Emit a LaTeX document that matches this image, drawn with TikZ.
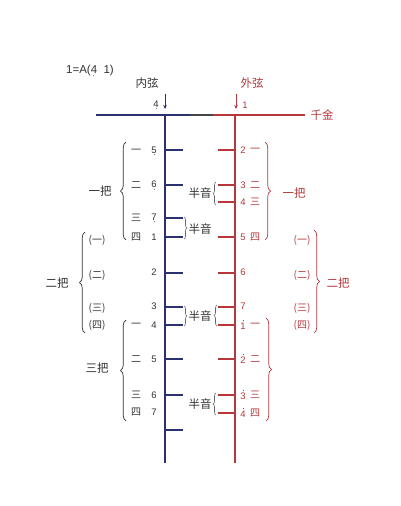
\documentclass[tikz,border=0pt]{standalone}
\usepackage{fontspec}
\setmainfont{Liberation Sans}
\newfontfamily\cjk{Noto Sans CJK SC}
\usetikzlibrary{decorations.pathreplacing,arrows.meta}
\definecolor{navy}{HTML}{2B3070}
\definecolor{redc}{HTML}{B5383C}
\definecolor{txt}{HTML}{333333}
\definecolor{mid}{HTML}{454545}
\newcommand\lo[1]{\leavevmode\setbox0\hbox{#1}\copy0\kern-\wd0\hbox to\wd0{\hss\raisebox{-2.4pt}{\color{gray}\rule{1pt}{1pt}}\hss}}
\newcommand\hi[1]{\leavevmode\setbox0\hbox{#1}\copy0\kern-\wd0\hbox to\wd0{\hss\raisebox{8.2pt}{\rule{1pt}{1pt}}\hss}}
\tikzset{
  bl/.style={draw=navy, line width=1.3pt},
  rd/.style={draw=redc, line width=1.3pt},
  dk/.style={draw=mid, line width=1.3pt},
  num/.style={inner sep=0pt, font=\fontsize{9.5}{10}\selectfont},
  cn/.style={inner sep=0pt, font=\fontsize{10}{11}\selectfont\cjk},
  big/.style={inner sep=0pt, font=\fontsize{11.5}{12}\selectfont\cjk},
  bigbrace/.style={decorate, decoration={brace, amplitude=5.5pt}, line width=0.7pt},
  smallbrace/.style={decorate, decoration={brace, amplitude=3pt}, line width=0.6pt, draw=gray!80!black}
}
\begin{document}
\begin{tikzpicture}[x=1pt,y=-1pt]
\fill[white] (0,0) rectangle (400,506);
\useasboundingbox (0,0) rectangle (400,506);

% headings
\node[inner sep=0pt, font=\fontsize{11.5}{12}\selectfont, txt] (title) at (90,71) {1=A(\lo{4}\ \ 1)};
\node[big, txt] (inner) at (147,83) {内弦};
\node[big, redc] (outer) at (252,83) {外弦};

% nut line
\coordinate (hl) at (96,115);
\coordinate (hm1) at (190,115);
\coordinate (hm2) at (213,115);
\coordinate (hr) at (305,115);
\draw[bl] (hl) -- (hm1);
\draw[dk] (hm1) -- (hm2);
\draw[rd] (hm2) -- (hr);
\node[big, redc] (qj) at (322,115) {千金};

% strings
\coordinate (bt) at (165,115); \coordinate (bb) at (165,463);
\coordinate (rt) at (235,115); \coordinate (rb) at (235,463);
\draw[bl] (bt) -- (bb);
\draw[rd] (rt) -- (rb);

% open string arrows
\coordinate (ba1) at (165,94); \coordinate (ba2) at (165,109);
\coordinate (ra1) at (236,94); \coordinate (ra2) at (236,109);
\draw[navy, line width=0.8pt, -{Stealth[length=4pt,width=3.5pt]}] (ba1) -- (ba2);
\draw[redc, line width=0.8pt, -{Stealth[length=4pt,width=3.5pt]}] (ra1) -- (ra2);
\node[num, txt] (b0) at (156,105) {\lo{4}};
\node[num, redc] (r0) at (245,105) {1};

% ticks
\foreach \y in {150,185,218,237,273,307,325,359,395,430}
  \draw[bl] (165,\y) -- (183,\y);
\foreach \y in {150,185,202,237,273,307,325,359,395,413}
  \draw[rd] (218,\y) -- (235,\y);

% inner string labels
\foreach \i/\c/\n/\y in {1/一/\lo{5}/151, 2/二/\lo{6}/185, 3/三/\lo{7}/218, 4/四/1/237,
                         7/一/4/325, 8/二/5/359, 9/三/6/395, 10/四/7/412}{
  \node[cn, txt] (bc\i) at (136,\y) {\c};
  \node[num, txt] (bn\i) at (154,\y) {\n};
}
\node[num, txt] (bn5) at (154,272) {2};
\node[num, txt] (bn6) at (154,306) {3};

% outer string labels
\foreach \i/\n/\c/\y in {1/2/一/150, 2/3/二/185, 3/4/三/202, 4/5/四/237,
                         7/\hi{1}/一/325, 8/\hi{2}/二/359, 9/\hi{3}/三/395, 10/\hi{4}/四/413}{
  \node[num, redc] (rn\i) at (243,\y) {\n};
  \node[cn, redc] (rc\i) at (255,\y) {\c};
}
\node[num, redc] (rn5) at (243,272) {6};
\node[num, redc] (rn6) at (243,306) {7};

% second position labels
\foreach \i/\c/\y in {1/一/240, 2/二/275, 3/三/308, 4/四/325}{
  \node[cn, txt] (lp\i) at (97,\y) {(\c)};
  \node[cn, redc] (rp\i) at (302,\y) {(\c)};
}

% big braces left
\coordinate (la1) at (126,240); \coordinate (la2) at (126,142);
\draw[bigbrace, txt] (la1) -- (la2);
\node[big, txt] (l1) at (100,191) {一把};
\coordinate (lb1) at (85,333); \coordinate (lb2) at (85,232);
\draw[bigbrace, txt] (lb1) -- (lb2);
\node[big, txt] (l2) at (57,283) {二把};
\coordinate (lc1) at (126,421); \coordinate (lc2) at (126,320);
\draw[bigbrace, txt] (lc1) -- (lc2);
\node[big, txt] (l3) at (97,368) {三把};

% big braces right
\coordinate (ra1b) at (265,142); \coordinate (ra2b) at (265,240);
\draw[bigbrace, redc] (ra1b) -- (ra2b);
\node[big, redc] (rr1) at (294,193) {一把};
\coordinate (rb1b) at (314,230); \coordinate (rb2b) at (314,333);
\draw[bigbrace, redc] (rb1b) -- (rb2b);
\node[big, redc] (rr2) at (338,283) {二把};
\coordinate (rc1b) at (266,318); \coordinate (rc2b) at (266,421);
\draw[bigbrace, redc] (rc1b) -- (rc2b);

% half-step braces and labels
\node[big, txt] (h1) at (200,193) {半音};
\coordinate (s1a) at (216,205); \coordinate (s1b) at (216,182);
\draw[smallbrace] (s1a) -- (s1b);
\node[big, txt] (h2) at (200,229) {半音};
\coordinate (s2a) at (184,217); \coordinate (s2b) at (184,239);
\draw[smallbrace] (s2a) -- (s2b);
\node[big, txt] (h3) at (200,316) {半音};
\coordinate (s3a) at (184,306); \coordinate (s3b) at (184,326);
\draw[smallbrace] (s3a) -- (s3b);
\coordinate (s4a) at (217,326); \coordinate (s4b) at (217,305);
\draw[smallbrace] (s4a) -- (s4b);
\node[big, txt] (h4) at (200,404) {半音};
\coordinate (s5a) at (216,415); \coordinate (s5b) at (216,393);
\draw[smallbrace] (s5a) -- (s5b);
\end{tikzpicture}
\end{document}
